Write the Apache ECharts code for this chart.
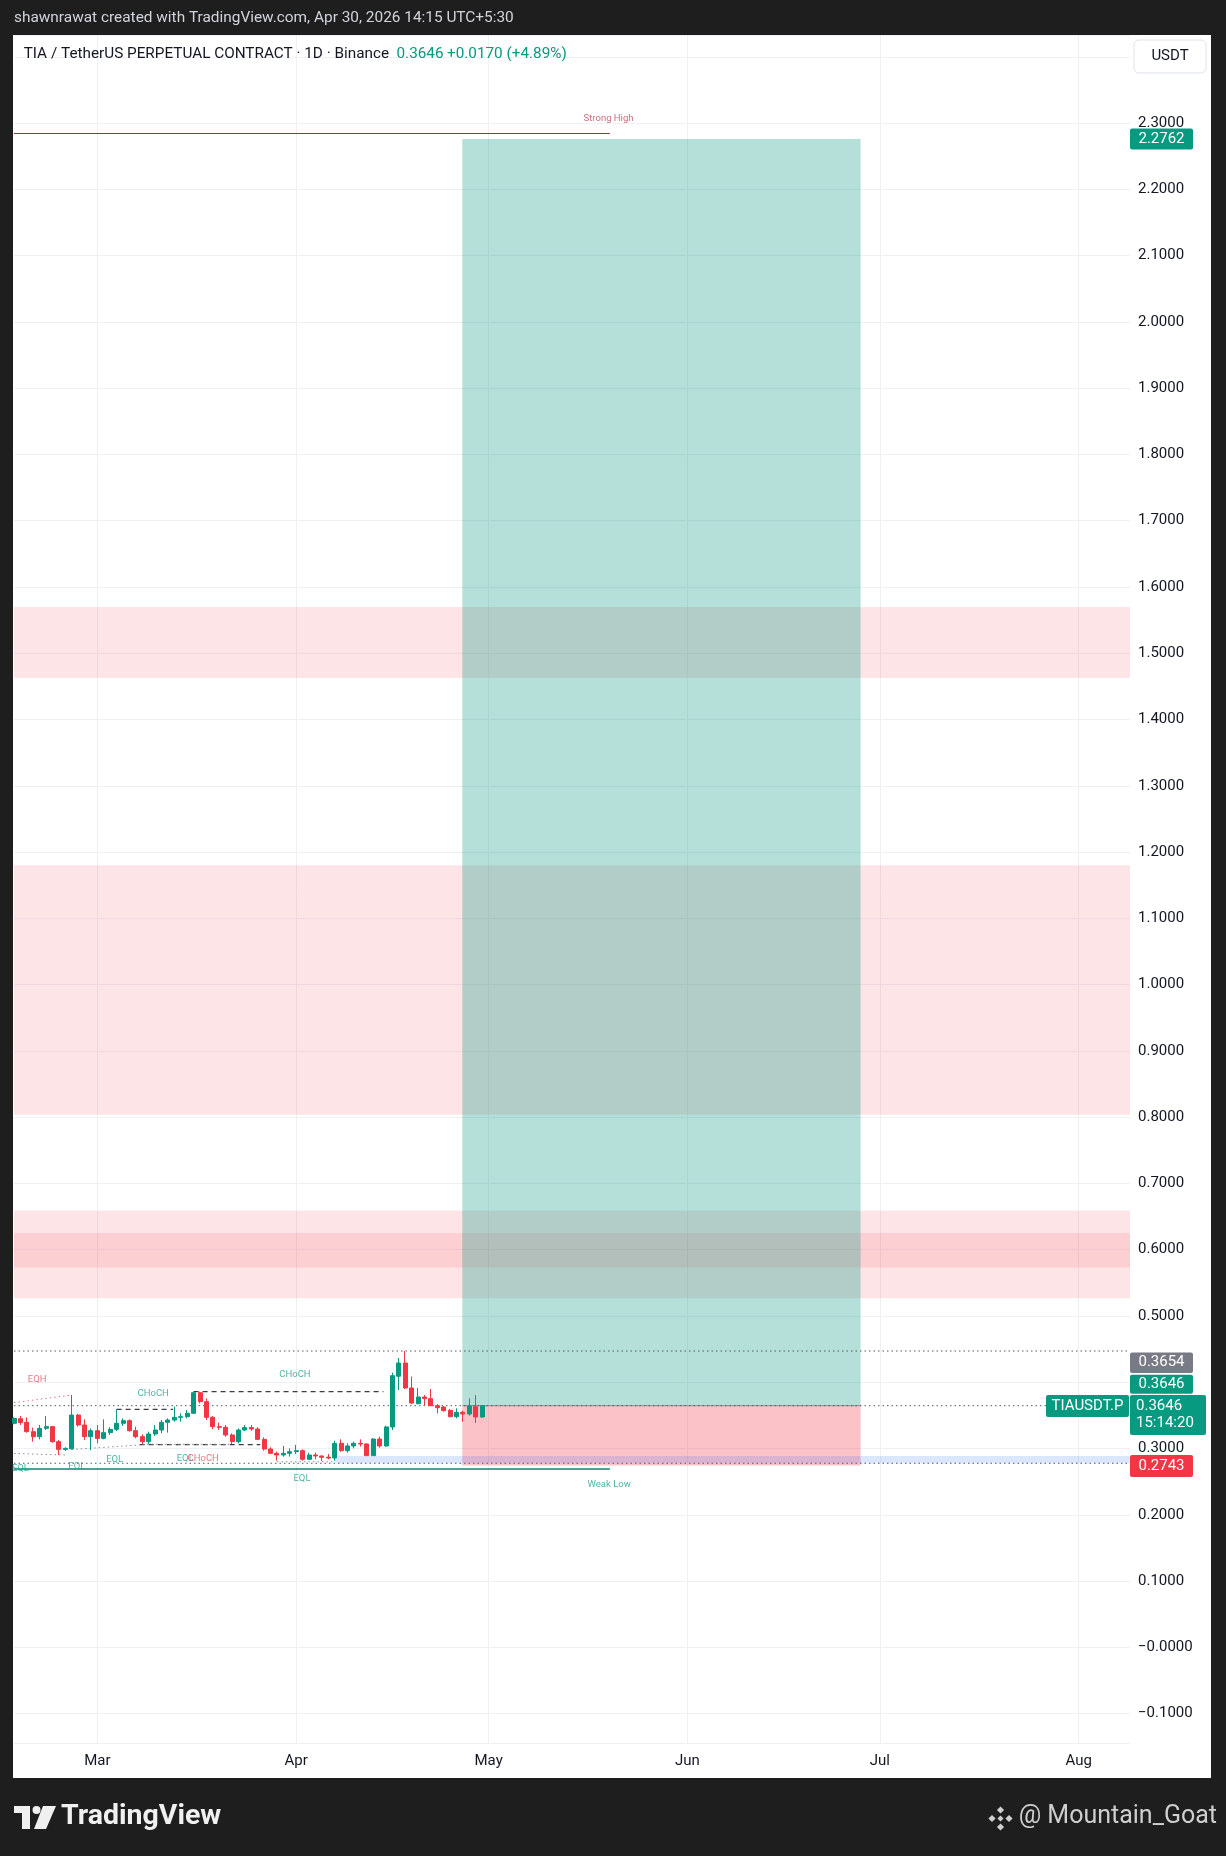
<!DOCTYPE html>
<html>
<head>
<meta charset="utf-8">
<script src="https://cdn.jsdelivr.net/npm/echarts@6/dist/echarts.min.js"></script>
<style>
html,body{margin:0;padding:0;background:#1e1e1e;width:1226px;height:1856px;overflow:hidden}
#panel{position:absolute;left:13px;top:35px;width:1198px;height:1743px;background:#ffffff}
#chart{position:absolute;left:0;top:0;width:1226px;height:1856px}
</style>
</head>
<body>
<div id="panel"></div>
<div id="chart"></div>
<script>
// ---------- categories (daily, 2026-02-16 .. 2026-08-09) ----------
const categoryStart = Date.UTC(2026, 1, 16);
const categoryDays = 175;
const monthNames = ['Jan','Feb','Mar','Apr','May','Jun','Jul','Aug','Sep','Oct','Nov','Dec'];
const dates = [];
for (let i = 0; i < categoryDays; i++) {
  dates.push(new Date(categoryStart + i * 86400000).toISOString().slice(0, 10));
}

// ---------- candles (Feb 16 .. Apr 30) ----------
const opens = [0.3380,0.3450,0.3395,0.3254,0.3179,0.3304,0.3330,0.3103,0.2987,0.2995,
  0.3505,0.3355,0.3179,0.3269,0.3153,0.3239,0.3289,0.3380,0.3420,0.3269,
  0.3179,0.3103,0.3219,0.3279,0.3395,0.3430,0.3470,0.3480,0.3531,0.3842,
  0.3707,0.3470,0.3330,0.3320,0.3204,0.3103,0.3279,0.3315,0.3294,0.3138,
  0.2992,0.2927,0.2902,0.2927,0.2952,0.2967,0.2837,0.2902,0.2887,0.2870,
  0.2857,0.3078,0.2967,0.3038,0.3078,0.3068,0.2892,0.3143,0.3038,0.3325,
  0.4090,0.4290,0.3913,0.3676,0.3777,0.3752,0.3646,0.3626,0.3576,0.3480,
  0.3546,0.3521,0.3631,0.3476];
const highs = [0.3470,0.3490,0.3470,0.3315,0.3355,0.3490,0.3340,0.3128,0.3018,0.3807,
  0.3521,0.3440,0.3304,0.3355,0.3440,0.3320,0.3591,0.3455,0.3440,0.3330,
  0.3214,0.3254,0.3355,0.3430,0.3455,0.3631,0.3531,0.3581,0.3858,0.3858,
  0.3757,0.3490,0.3390,0.3355,0.3229,0.3304,0.3355,0.3355,0.3320,0.3168,
  0.3018,0.2952,0.3038,0.3002,0.3053,0.2987,0.2937,0.2937,0.2895,0.2917,
  0.3118,0.3138,0.3078,0.3103,0.3138,0.3078,0.3153,0.3179,0.3345,0.4144,
  0.4365,0.4471,0.4084,0.3913,0.3807,0.3898,0.3671,0.3641,0.3596,0.3606,
  0.3571,0.3757,0.3807,0.3654];
const lows = [0.3365,0.3355,0.3239,0.3103,0.3138,0.3279,0.3088,0.2902,0.2962,0.2985,
  0.3330,0.3128,0.2977,0.3078,0.3138,0.3204,0.3264,0.3340,0.3254,0.3153,
  0.3068,0.3068,0.3189,0.3229,0.3239,0.3405,0.3405,0.3455,0.3521,0.3681,
  0.3430,0.3289,0.3279,0.3179,0.3068,0.3078,0.3264,0.3269,0.3128,0.2967,
  0.2917,0.2816,0.2877,0.2877,0.2917,0.2816,0.2826,0.2837,0.2811,0.2837,
  0.2816,0.2952,0.2937,0.3002,0.3028,0.2887,0.2887,0.3012,0.3028,0.3279,
  0.3883,0.3898,0.3671,0.3666,0.3656,0.3641,0.3531,0.3556,0.3470,0.3455,
  0.3405,0.3495,0.3385,0.3460];
const closes = [0.3455,0.3390,0.3254,0.3179,0.3304,0.3330,0.3103,0.2987,0.3002,0.3505,
  0.3355,0.3179,0.3269,0.3153,0.3239,0.3289,0.3380,0.3420,0.3269,0.3179,
  0.3103,0.3219,0.3279,0.3395,0.3430,0.3470,0.3480,0.3531,0.3842,0.3707,
  0.3470,0.3330,0.3320,0.3204,0.3103,0.3279,0.3315,0.3294,0.3138,0.2992,
  0.2927,0.2902,0.2927,0.2952,0.2967,0.2837,0.2902,0.2887,0.2867,0.2857,
  0.3078,0.2967,0.3038,0.3078,0.3068,0.2892,0.3143,0.3038,0.3325,0.4099,
  0.4290,0.3913,0.3686,0.3777,0.3752,0.3646,0.3616,0.3571,0.3480,0.3546,
  0.3521,0.3641,0.3476,0.3646];

// ---------- zones / drawings (price units; x in day index from Feb 16) ----------
const supplyZones = [[1.4627,1.5697],[0.8035,1.1803],[0.5268,0.6590],[0.5733,0.6252]];
const blueZone = [50, 174, 0.2777, 0.2887];            // from, to, low, high
const positionBox = [69.9, 132, 0.2743, 0.3646, 2.2762]; // from, to, stop, entry, target
const strongHigh = [0, 92.9, 2.2843];
const weakLow = [0, 92.9, 0.2690];
const dottedLevels = [0.4471, 0.3646, 0.2777];
const chochLines = [[16, 24.8, 0.3591], [28, 57.6, 0.3857], [19.6, 38.4, 0.3058]];
const eqhLines = [[[0, 0.3691], [9, 0.3807]]];
const eqlLines = [[[0, 0.2925], [8, 0.2902]], [[9, 0.2985], [19.6, 0.3053]], [[20, 0.3064], [34, 0.3064]], [[41, 0.2800], [50, 0.2800]]];
const smcLabels = [
  ['Strong High', 92.7, 2.3061, 's'], ['Weak Low', 92.8, 0.2449, 't'],
  ['EQH', 3.6, 0.4043, 'r'], ['CHoCH', 21.7, 0.3833, 't'], ['CHoCH', 43.8, 0.4109, 't'],
  ['EQL', 26.7, 0.2845, 't'], ['CHoCH', 29.5, 0.2845, 'r'],
  ['EQL', 1.0, 0.2690, 't'], ['EQL', 9.8, 0.2730, 't'], ['EQL', 15.7, 0.2837, 't'], ['EQL', 44.9, 0.2550, 't']
];
const lastPrice = 0.3646, priceChange = '+0.0170 (+4.89%)';
const badgeValues = ['2.2762', '0.3654', '0.3646', '15:14:20', '0.2743'];

// ---------- styles ----------
const UP = '#089981', DOWN = '#f23645', TEXT = '#131722', GRIDC = '#eef0f4';
const LBL = { r: '#dd5a68', s: '#c2495a', t: '#26a08f' };
const FONT = 'Roboto, "Noto Sans", sans-serif';

function fmtPrice(v) {
  const r = Math.round(v * 10) / 10;
  if (Math.abs(v - r) > 1e-6) return '';
  if (Math.abs(r) < 1e-9) return '\u22120.0000';
  return r < 0 ? '\u2212' + Math.abs(r).toFixed(4) : r.toFixed(4);
}
const isMonthStart = (i, v) => v.slice(8) === '01';

function lineS(data, style, z) {
  return { type: 'line', xAxisIndex: 1, yAxisIndex: 0, data: data, symbol: 'none', silent: true,
           lineStyle: style, z: z || 3, animation: false };
}
function areaS(areas, color, z) {
  return { type: 'line', xAxisIndex: 1, yAxisIndex: 0, data: [], silent: true, z: z,
    markArea: { silent: true, label: { show: false }, itemStyle: { color: color },
      data: areas.map(a => [{ coord: [a[0], a[2]] }, { coord: [a[1], a[3]] }]) } };
}

const series = [];
series.push(areaS(supplyZones.map(z => [0, categoryDays - 1, z[0], z[1]]), 'rgba(242,54,69,0.13)', 1));
series.push(areaS([[positionBox[0], positionBox[1], positionBox[3], positionBox[4]]], 'rgba(8,153,129,0.30)', 2));
series.push(areaS([[positionBox[0], positionBox[1], positionBox[2], positionBox[3]]], 'rgba(242,54,69,0.30)', 2));
series.push(areaS([blueZone], 'rgba(41,98,255,0.16)', 2));
series.push(lineS([[positionBox[0], positionBox[3]], [positionBox[1], positionBox[3]]], { color: '#8a8d96', width: 1 }, 3));
series.push(lineS([[strongHigh[0], strongHigh[2]], [strongHigh[1], strongHigh[2]]], { color: '#9e2f3c', width: 1.1 }, 3));
series.push(lineS([[weakLow[0], weakLow[2]], [weakLow[1], weakLow[2]]], { color: '#0f8572', width: 1.6 }, 3));
dottedLevels.forEach(p => series.push(lineS([[0, p], [categoryDays - 1, p]], { color: '#555966', width: 1, type: [1.5, 3] }, 3)));
chochLines.forEach(c => series.push(lineS([[c[0], c[2]], [c[1], c[2]]], { color: '#3a3d46', width: 1.2, type: [5, 4] }, 4)));
eqhLines.forEach(l => series.push(lineS(l, { color: '#e57380', width: 1, type: [1.5, 3] }, 4)));
eqlLines.forEach(l => series.push(lineS(l, { color: '#8d909a', width: 1, type: [1.5, 3] }, 4)));
series.push({
  type: 'candlestick', xAxisIndex: 0, yAxisIndex: 0, z: 10, barWidth: 4.5, silent: true,
  data: opens.map((o, i) => [o, closes[i], lows[i], highs[i]]),
  itemStyle: { color: UP, color0: DOWN, borderColor: UP, borderColor0: DOWN, borderWidth: 1 }
});
series.push({
  type: 'scatter', xAxisIndex: 1, yAxisIndex: 0, z: 20, symbolSize: 1, silent: true,
  itemStyle: { color: 'rgba(0,0,0,0)' },
  data: smcLabels.map(l => ({ value: [l[1], l[2]],
    label: { show: true, position: 'inside', formatter: l[0], color: LBL[l[3]], fontSize: 9.5, fontFamily: FONT } }))
});

const chart = echarts.init(document.getElementById('chart'), null, { renderer: 'canvas', width: 1226, height: 1856 });
chart.setOption({
  animation: false,
  backgroundColor: 'transparent',
  grid: { left: 14, right: 96, top: 35.5, bottom: 113, containLabel: false },
  xAxis: [
    { type: 'category', data: dates, boundaryGap: false,
      axisLine: { show: false }, axisTick: { show: false },
      axisLabel: { interval: isMonthStart, formatter: v => monthNames[+v.slice(5, 7) - 1],
        color: TEXT, fontSize: 15, margin: 11, fontFamily: FONT },
      splitLine: { show: true, interval: isMonthStart, lineStyle: { color: GRIDC, width: 1 } } },
    { type: 'value', min: 0, max: categoryDays - 1, show: false }
  ],
  yAxis: [{
    type: 'value', position: 'right', min: -0.1444, max: 2.4322, minInterval: 0.1, maxInterval: 0.1, splitNumber: 26,
    axisLine: { show: false }, axisTick: { show: false },
    splitLine: { show: true, lineStyle: { color: GRIDC, width: 1 } },
    axisLabel: { margin: 8, color: TEXT, fontSize: 15, fontFamily: FONT, showMinLabel: true, showMaxLabel: true, formatter: fmtPrice }
  }],
  series: series
});

// ---------- overlay text / badges ----------
const yPx = p => chart.convertToPixel({ yAxisIndex: 0 }, p);
const g = [];
function txt(x, y, text, fill, size, opts) {
  return { type: 'text', x: x, y: y, z: 100,
    style: { text: text, fill: fill, font: (opts && opts.weight ? opts.weight + ' ' : '') + size + 'px ' + FONT,
      textAlign: (opts && opts.align) || 'left', textVerticalAlign: 'middle' } };
}
const W = '#f0f0f0';
// header
g.push(txt(14, 18, 'shawnrawat created with TradingView.com, Apr 30, 2026 14:15 UTC+5:30', '#d1d4dc', 15.4));
g.push(txt(23.7, 54.5, 'TIA / TetherUS PERPETUAL CONTRACT \u00b7 1D \u00b7 Binance', TEXT, 15.3));
g.push(txt(396.5, 54.5, lastPrice.toFixed(4), UP, 15.3));
g.push(txt(447, 54.5, priceChange, UP, 15.3));
// USDT box
g.push({ type: 'rect', z: 90, shape: { x: 1134, y: 40, width: 72, height: 33, r: 5 }, style: { fill: '#fff', stroke: '#e0e3eb', lineWidth: 1 } });
g.push(txt(1170, 56.5, 'USDT', TEXT, 15, { align: 'center' }));
// price badges
const yT = yPx(positionBox[4]), yC = yPx(lastPrice), yS = yPx(positionBox[2]);
g.push({ type: 'rect', z: 90, shape: { x: 1130, y: yT - 10.5, width: 63, height: 21, r: 2 }, style: { fill: UP } });
g.push(txt(1161.5, yT, badgeValues[0], '#fff', 15, { align: 'center' }));
g.push({ type: 'rect', z: 90, shape: { x: 1130, y: yC - 53.3, width: 63, height: 20.6, r: 2 }, style: { fill: '#787b86' } });
g.push(txt(1161.5, yC - 43, badgeValues[1], '#fff', 15, { align: 'center' }));
g.push({ type: 'rect', z: 90, shape: { x: 1130, y: yC - 31, width: 63, height: 19, r: 2 }, style: { fill: UP } });
g.push(txt(1161.5, yC - 21.5, badgeValues[2], '#fff', 15, { align: 'center' }));
g.push({ type: 'rect', z: 90, shape: { x: 1130, y: yC - 10.7, width: 76, height: 40, r: 2 }, style: { fill: UP } });
g.push(txt(1136, yC + 0.5, badgeValues[2], '#fff', 15));
g.push(txt(1136, yC + 18, badgeValues[3], '#fff', 15));
g.push({ type: 'rect', z: 90, shape: { x: 1046, y: yC - 10.7, width: 83, height: 22, r: 2 }, style: { fill: UP } });
g.push(txt(1087.5, yC + 0.3, 'TIAUSDT.P', '#fff', 15, { align: 'center' }));
g.push({ type: 'rect', z: 90, shape: { x: 1130, y: yS - 10.5, width: 63, height: 22, r: 2 }, style: { fill: DOWN } });
g.push(txt(1161.5, yS + 0.5, badgeValues[4], '#fff', 15, { align: 'center' }));
// footer: TradingView logo + wordmark
g.push({ type: 'rect', z: 90, shape: { x: 14, y: 1806, width: 16, height: 7 }, style: { fill: W } });
g.push({ type: 'rect', z: 90, shape: { x: 22, y: 1806, width: 8, height: 23 }, style: { fill: W } });
g.push({ type: 'circle', z: 90, shape: { cx: 36.5, cy: 1810, r: 4 }, style: { fill: W } });
g.push({ type: 'polygon', z: 90, shape: { points: [[43, 1806], [56, 1806], [46, 1829], [34, 1829]] }, style: { fill: W } });
g.push(txt(61, 1817, 'TradingView', W, 28.5, { weight: 'bold' }));
// footer right: diamond icon + handle
const ic = [1000.5, 1818.5], ICON = '#cfcfcf';
function diamond(cx, cy, h) {
  return { type: 'polygon', z: 90, shape: { points: [[cx, cy - h], [cx + h, cy], [cx, cy + h], [cx - h, cy]] }, style: { fill: ICON } };
}
[[0, -8.5], [-8.5, 0], [8.5, 0], [0, 8.5]].forEach(d => g.push(diamond(ic[0] + d[0], ic[1] + d[1], 3.6)));
g.push(diamond(ic[0], ic[1], 3));
g.push(txt(1217, 1817, '@ Mountain_Goat', '#cfcfcf', 25, { align: 'right' }));

chart.setOption({ graphic: { elements: g } });
</script>
</body>
</html>
